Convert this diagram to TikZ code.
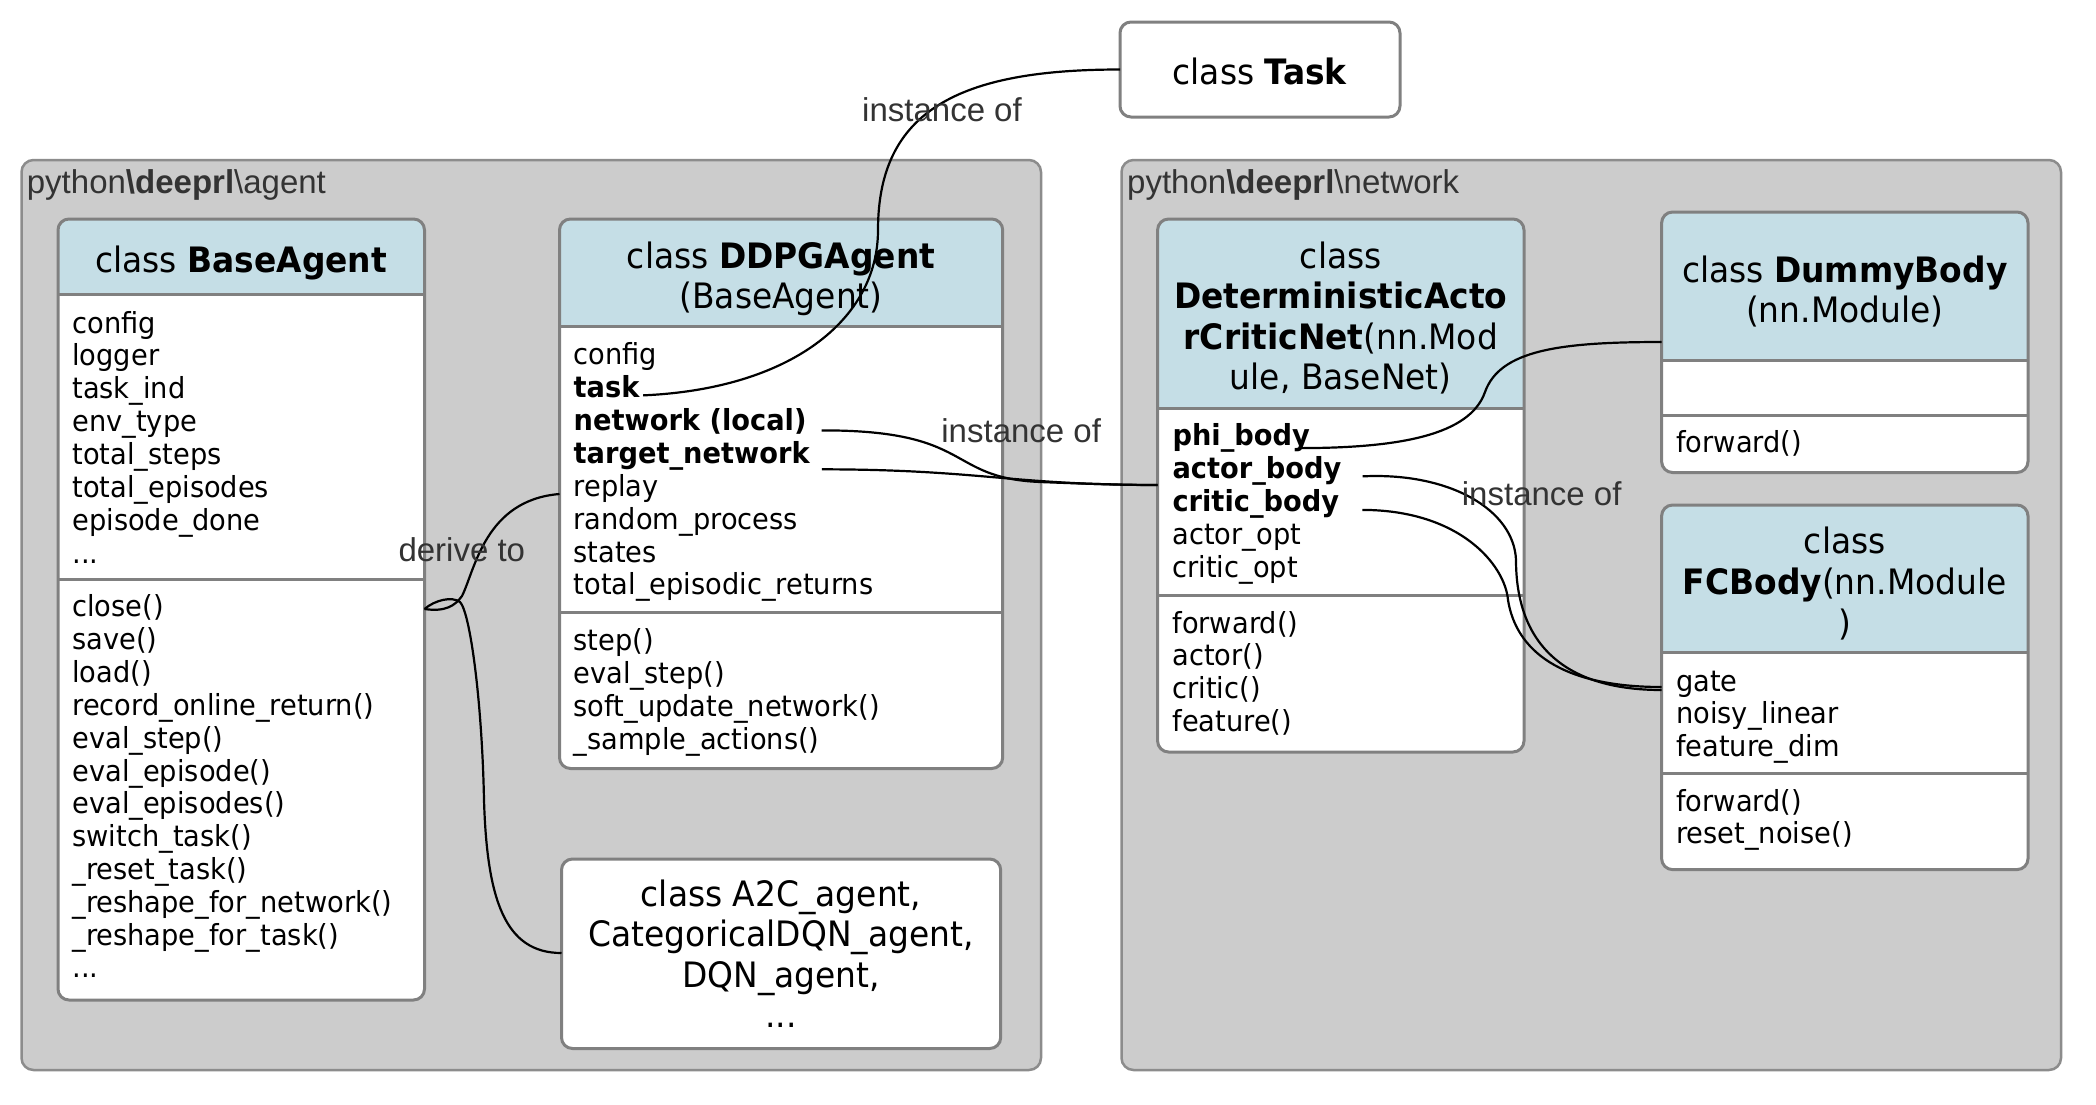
\documentclass[tikz,border=0pt]{standalone}
\usepackage{fontspec}
\newfontfamily\clsfont{DejaVu Sans}[FakeStretch=0.94]
\newfontfamily\lblfont{Liberation Sans}
\definecolor{hdrblue}{RGB}{197,222,230}
\definecolor{grpfill}{RGB}{204,204,204}
\definecolor{grpline}{RGB}{140,140,140}
\definecolor{boxline}{RGB}{128,128,128}
\definecolor{lblgray}{RGB}{51,51,51}
\newcommand\UmlBox[6]{%
  \node[anchor=north west, inner sep=0pt, outer sep=0pt, fill=white,
        rounded corners=11pt, minimum width={#4-#2}, minimum height={#5-#3}] (#1) at (#2,#3) {};
  \begin{scope}
    \clip[rounded corners=11pt] (#2,#3) rectangle (#4,#5);
    \fill[hdrblue] (#2,#3) rectangle (#4,#6);
  \end{scope}
  \draw[divl] (#2,#6) -- (#4,#6);
}
\begin{document}
\begin{tikzpicture}[x=1pt,y=-1pt,
  grp/.style={fill=grpfill, draw=grpline, line width=2.5pt, rounded corners=12pt,
              inner sep=0pt, outer sep=0pt, anchor=north west},
  wbox/.style={fill=white, draw=boxline, line width=3pt, rounded corners=11pt,
              inner sep=0pt, outer sep=0pt, anchor=north west},
  bord/.style={draw=boxline, line width=3pt, rounded corners=11pt},
  divl/.style={draw=boxline, line width=3pt},
  attr/.style={anchor=base west, inner sep=0pt, font=\clsfont\fontsize{29}{33}\selectfont},
  hdr/.style={anchor=base, inner sep=0pt, font=\clsfont\fontsize{35}{40.5}\selectfont},
  lbl/.style={anchor=base west, inner sep=0pt, text=lblgray, font=\lblfont\fontsize{33}{38}\selectfont},
  conn/.style={draw=black, line width=2.2pt}]

\useasboundingbox (0,0) rectangle (2096,1104);
\fill[white] (0,0) rectangle (2096,1104);

% ---------- groups ----------
\node[grp, minimum width=1019.5, minimum height=910] (agentGrp) at (21.5,160) {};
\node[grp, minimum width=939.5, minimum height=910] (netGrp) at (1121.5,160) {};
\node[lbl] (agentGrpT) at (26.7,193) {python\textbf{\textbackslash deeprl}\textbackslash agent};
\node[lbl] (netGrpT) at (1127,193) {python\textbf{\textbackslash deeprl}\textbackslash network};

% ---------- Task ----------
\node[wbox, minimum width=280, minimum height=95] (taskBox) at (1120,22) {};
\node[hdr] (taskT) at (1260,84) {class \textbf{Task}};

% ---------- BaseAgent ----------
\UmlBox{baseBox}{58}{219}{424.5}{1000}{294}
\draw[divl] (58,579.5) -- (424.5,579.5);
\draw[bord] (baseBox.north west) rectangle (baseBox.south east);
\node[hdr] (baseT) at (241.25,272) {class \textbf{BaseAgent}};
\foreach \t [count=\i from 0] in {config,logger,task\_ind,env\_type,total\_steps,total\_episodes,episode\_done}
  \node[attr] (baseA\i) at (72.2,333+32.9*\i) {\t};
\node[attr] (baseAdots) at (72.2,563.3) {...};
\foreach \t [count=\i from 0] in {close(),save(),load(),record\_online\_return(),eval\_step(),eval\_episode(),eval\_episodes(),switch\_task(),\_reset\_task(),\_reshape\_for\_network(),\_reshape\_for\_task()}
  \node[attr] (baseM\i) at (72.2,616.5+32.9*\i) {\t};
\node[attr] (baseMdots) at (72.2,977.5) {...};

% ---------- DDPGAgent ----------
\UmlBox{ddpgBox}{559.5}{219}{1002.7}{768.5}{326}
\draw[divl] (559.5,612) -- (1002.7,612);
\draw[bord] (ddpgBox.north west) rectangle (ddpgBox.south east);
\node[hdr] (ddpgT1) at (781.1,268) {class \textbf{DDPGAgent}};
\node[hdr] (ddpgT2) at (781.1,308.5) {(BaseAgent)};
\node[attr] (ddpgConfig) at (573.5,364.6) {config};
\node[attr] (ddpgTask) at (573.5,397.5) {\textbf{task}};
\node[attr] (ddpgNet) at (573.5,430.4) {\textbf{network (local)}};
\node[attr] (ddpgTgt) at (573.5,463.3) {\textbf{target\_network}};
\node[attr] (ddpgReplay) at (573.5,496.2) {replay};
\node[attr] (ddpgRand) at (573.5,529.1) {random\_process};
\node[attr] (ddpgStates) at (573.5,562) {states};
\node[attr] (ddpgRet) at (573.5,594.9) {total\_episodic\_returns};
\foreach \t [count=\i from 0] in {step(),eval\_step(),soft\_update\_network(),\_sample\_actions()}
  \node[attr] (ddpgM\i) at (573.5,650.8+32.9*\i) {\t};

% ---------- A2C etc ----------
\node[wbox, minimum width=439.2, minimum height=189.5] (a2cBox) at (561.5,859) {};
\node[hdr] (a2cT1) at (781.1,906) {class A2C\_agent,};
\node[hdr] (a2cT2) at (781.1,946.5) {CategoricalDQN\_agent,};
\node[hdr] (a2cT3) at (781.1,987) {DQN\_agent,};
\node[hdr] (a2cT4) at (781.1,1027.5) {...};

% ---------- DeterministicActorCriticNet ----------
\UmlBox{dacnBox}{1157.6}{219}{1524}{752}{408.5}
\draw[divl] (1157.6,595) -- (1524,595);
\draw[bord] (dacnBox.north west) rectangle (dacnBox.south east);
\node[hdr] (dacnT1) at (1340.8,268) {class};
\node[hdr] (dacnT2) at (1340.8,308.5) {\textbf{DeterministicActo}};
\node[hdr] (dacnT3) at (1340.8,349) {\textbf{rCriticNet}(nn.Mod};
\node[hdr] (dacnT4) at (1340.8,389.5) {ule, BaseNet)};
\node[attr] (dacnPhi) at (1172.3,445.6) {\textbf{phi\_body}};
\node[attr] (dacnActor) at (1172.3,478.5) {\textbf{actor\_body}};
\node[attr] (dacnCritic) at (1172.3,511.4) {\textbf{critic\_body}};
\node[attr] (dacnAopt) at (1172.3,544.3) {actor\_opt};
\node[attr] (dacnCopt) at (1172.3,577.2) {critic\_opt};
\foreach \t [count=\i from 0] in {forward(),actor(),critic(),feature()}
  \node[attr] (dacnM\i) at (1172.3,633+32.9*\i) {\t};

% ---------- DummyBody ----------
\UmlBox{dummyBox}{1661.6}{212}{2028}{472.5}{360}
\draw[divl] (1661.6,415) -- (2028,415);
\draw[bord] (dummyBox.north west) rectangle (dummyBox.south east);
\node[hdr] (dummyT1) at (1844.8,282) {class \textbf{DummyBody}};
\node[hdr] (dummyT2) at (1844.8,322.6) {(nn.Module)};
\node[attr] (dummyM0) at (1676,452.7) {forward()};

% ---------- FCBody ----------
\UmlBox{fcBox}{1661.6}{505}{2028}{869.6}{652.7}
\draw[divl] (1661.6,773.8) -- (2028,773.8);
\draw[bord] (fcBox.north west) rectangle (fcBox.south east);
\node[hdr] (fcT1) at (1844.8,553.5) {class};
\node[hdr] (fcT2) at (1844.8,594.7) {\textbf{FCBody}(nn.Module};
\node[hdr] (fcT3) at (1844.8,635.2) {)};
\node[attr] (fcGate) at (1676,691) {gate};
\node[attr] (fcNoisy) at (1676,723.9) {noisy\_linear};
\node[attr] (fcFeat) at (1676,756.8) {feature\_dim};
\node[attr] (fcM0) at (1676,811) {forward()};
\node[attr] (fcM1) at (1676,843.9) {reset\_noise()};

% ---------- connectors ----------
% task -> class Task
\draw[conn] ([xshift=3pt]ddpgTask.mid east)
  .. controls (790,389) and (878,320) .. (878,230)
  .. controls (878,110) and (960,69.5) .. (taskBox.west);
% network (local) -> DeterministicActorCriticNet
\draw[conn] ([xshift=15pt]ddpgNet.base east)
  .. controls (975,430) and (945,478) .. (1040,482)
  .. controls (1090,484) and (1130,485) .. ([yshift=-266pt]dacnBox.north west);
% target_network -> DeterministicActorCriticNet
\draw[conn] ([xshift=11.5pt,yshift=-6pt]ddpgTgt.base east)
  .. controls (980,469.5) and (1010,485) .. ([yshift=-266pt]dacnBox.north west);
% DummyBody -> phi_body
\draw[conn] ([yshift=-130pt]dummyBox.north west)
  .. controls (1560,342) and (1500,350) .. (1485,392)
  .. controls (1470,435) and (1400,448) .. ([xshift=-10pt,yshift=-2.5pt]dacnPhi.base east);
% actor_body -> FCBody
\draw[conn] ([xshift=21pt]dacnActor.mid east)
  .. controls (1450,472) and (1514,510) .. (1516,560)
  .. controls (1516,640) and (1560,690) .. ([yshift=-185pt]fcBox.north west);
% critic_body -> FCBody
\draw[conn] ([xshift=23pt,yshift=1.5pt]dacnCritic.base east)
  .. controls (1460,510) and (1505,565) .. (1508,600)
  .. controls (1516,650) and (1560,687) .. ([yshift=-182pt]fcBox.north west);
% BaseAgent -> DDPGAgent
\draw[conn] ([yshift=-390pt]baseBox.north east)
  .. controls (445,612) and (455,606) .. (462,596)
  .. controls (475,570) and (485,500) .. ([yshift=-275pt]ddpgBox.north west);
% BaseAgent -> A2C ...
\draw[conn] ([yshift=-390pt]baseBox.north east)
  .. controls (435,600) and (452,596) .. (460,602)
  .. controls (470,612) and (482,700) .. (484,800)
  .. controls (487,900) and (505,953) .. ([yshift=-94pt]a2cBox.north west);

% ---------- labels ----------
\node[lbl] (lblInst1) at (862,121.5) {instance of};
\node[lbl] (lblInst2) at (941.2,442) {instance of};
\node[lbl] (lblInst3) at (1461.7,505) {instance of};
\node[lbl] (lblDerive) at (398.3,561) {derive to};
\end{tikzpicture}
\end{document}
